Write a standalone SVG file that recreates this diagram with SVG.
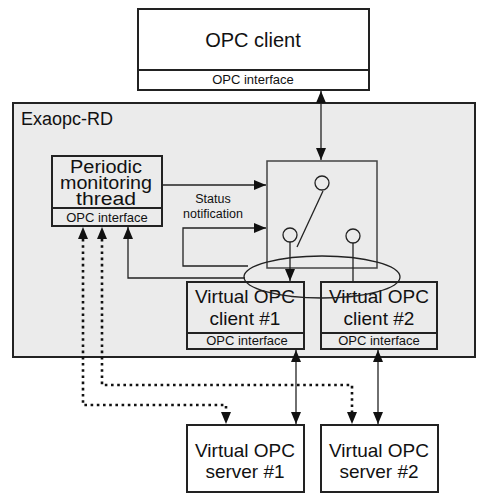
<svg xmlns="http://www.w3.org/2000/svg" width="489" height="502" viewBox="0 0 489 502">
<style>
text{font-family:"Liberation Sans",Arial,sans-serif;fill:#111;text-anchor:middle}
.box{stroke:#222;stroke-width:2}
.w{fill:#fff}
.g{fill:#ebebeb}
.ln{fill:none;stroke:#222;stroke-width:1.3}
.dot{fill:none;stroke:#111;stroke-width:2.6;stroke-dasharray:2.6 3.6}
.big{font-size:20px}
.mid{font-size:19px}
.pm{font-size:18px}
.sm{font-size:13px}
.st{font-size:12.5px}
</style>
<defs>
<marker id="ah" viewBox="0 0 12 10" refX="12" refY="5" markerWidth="12" markerHeight="10" markerUnits="userSpaceOnUse" orient="auto-start-reverse">
<path d="M0,0 L12,5 L0,10 z" fill="#111"/>
</marker>
</defs>
<rect width="489" height="502" fill="#fff"/>
<g id="exaopc-rd">
<rect class="box g" x="13" y="103" width="462" height="254"/>
<text x="21" y="125" style="font-size:18px;text-anchor:start">Exaopc-RD</text>
</g>
<g id="opc-client">
<rect class="box w" x="138" y="9" width="231" height="81"/>
<line class="ln" x1="138" y1="70" x2="369" y2="70" style="stroke-width:2"/>
<text class="big" x="253" y="47">OPC client</text>
<text class="sm" x="253" y="84">OPC interface</text>
</g>
<g id="periodic-monitoring-thread">
<rect class="box g" x="52" y="156" width="110" height="70"/>
<line class="ln" x1="52" y1="208" x2="162" y2="208" style="stroke-width:2"/>
<text class="pm" x="106" y="173" textLength="72" lengthAdjust="spacingAndGlyphs">Periodic</text>
<text class="pm" x="106" y="189" textLength="92" lengthAdjust="spacingAndGlyphs">monitoring</text>
<text class="pm" x="106" y="205" textLength="60" lengthAdjust="spacingAndGlyphs">thread</text>
<text class="sm" x="107" y="222">OPC interface</text>
</g>
<g id="switch">
<rect x="267" y="161" width="110" height="107" fill="#ebebeb" stroke="#444" stroke-width="1.5"/>
<circle cx="322" cy="183" r="7" fill="none" stroke="#222" stroke-width="1.3"/>
<circle cx="290" cy="235" r="7" fill="none" stroke="#222" stroke-width="1.3"/>
<circle cx="353" cy="236" r="7" fill="none" stroke="#222" stroke-width="1.3"/>
<line class="ln" x1="323" y1="191" x2="297" y2="247"/>
</g>
<g id="virtual-opc-client-1">
<rect class="box g" x="187" y="282" width="117" height="67"/>
<line class="ln" x1="187" y1="333" x2="304" y2="333" style="stroke-width:2"/>
<text class="mid" x="245" y="303">Virtual OPC</text>
<text class="mid" x="245" y="325">client #1</text>
<text class="sm" x="247" y="345">OPC interface</text>
</g>
<g id="virtual-opc-client-2">
<rect class="box g" x="321" y="282" width="116" height="67"/>
<line class="ln" x1="321" y1="333" x2="437" y2="333" style="stroke-width:2"/>
<text class="mid" x="379" y="303">Virtual OPC</text>
<text class="mid" x="379" y="325">client #2</text>
<text class="sm" x="379" y="345">OPC interface</text>
</g>
<g id="virtual-opc-server-1">
<rect class="box w" x="187" y="425" width="117" height="67"/>
<text class="mid" x="245" y="457">Virtual OPC</text>
<text class="mid" x="245" y="478">server #1</text>
</g>
<g id="virtual-opc-server-2">
<rect class="box w" x="321" y="425" width="117" height="67"/>
<text class="mid" x="379" y="457">Virtual OPC</text>
<text class="mid" x="379" y="478">server #2</text>
</g>
<g id="connectors">
<line class="ln" x1="321" y1="91" x2="321" y2="160" marker-start="url(#ah)" marker-end="url(#ah)"/>
<line class="ln" x1="162" y1="185" x2="266" y2="185" marker-end="url(#ah)"/>
<text class="st" x="213" y="203">Status</text>
<text class="st" x="213" y="218">notification</text>
<polyline class="ln" points="248,266 183,266 183,228 266,228" marker-end="url(#ah)"/>
<polyline class="ln" points="245,278 128,278 128,227" marker-end="url(#ah)"/>
<line class="ln" x1="290" y1="242" x2="290" y2="281" marker-end="url(#ah)"/>
<line class="ln" x1="353" y1="243" x2="353" y2="282"/>
<ellipse cx="322" cy="277" rx="78" ry="21" fill="none" stroke="#222" stroke-width="1.3"/>
<line class="ln" x1="296" y1="350" x2="296" y2="424" marker-start="url(#ah)" marker-end="url(#ah)"/>
<line class="ln" x1="378" y1="350" x2="378" y2="424" marker-start="url(#ah)" marker-end="url(#ah)"/>
<polyline class="dot" points="83,239 83,405 226,405 226,412"/>
<polyline class="dot" points="102,239 102,385 352,385 352,412"/>
<path d="M78,239 L83,227 L88,239 z" fill="#111"/>
<path d="M97,239 L102,227 L107,239 z" fill="#111"/>
<path d="M221,412 L226,424 L231,412 z" fill="#111"/>
<path d="M347,412 L352,424 L357,412 z" fill="#111"/>
</g>
</svg>
